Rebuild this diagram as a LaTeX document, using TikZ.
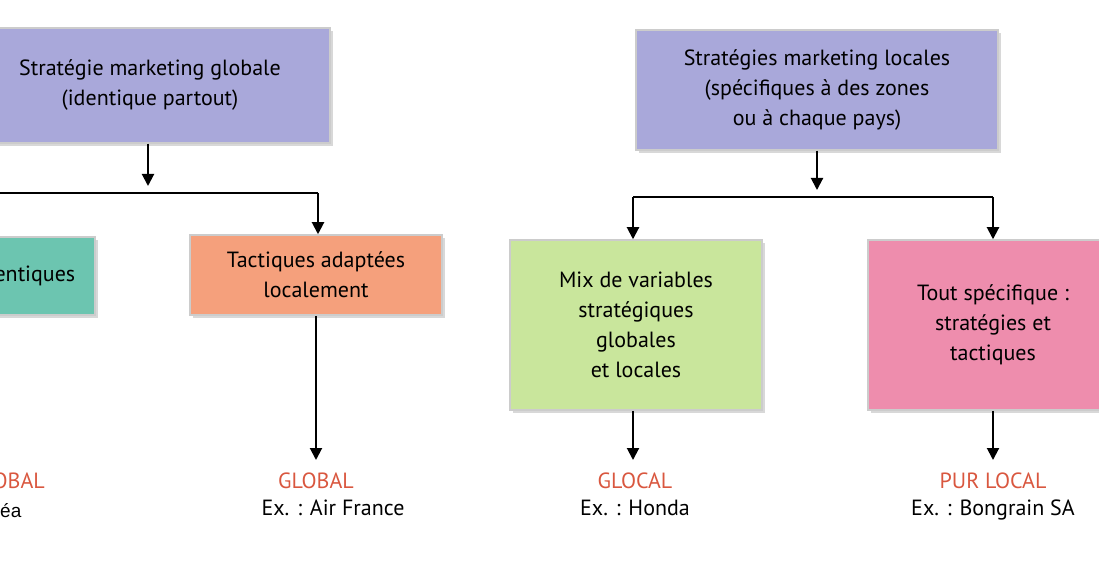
\documentclass[tikz,border=0pt]{standalone}
\usepackage{fontspec}
\setmainfont{PT Sans}
\newfontfamily\plainsans{Liberation Sans}
\usetikzlibrary{arrows.meta,shadows}
\definecolor{cpurple}{HTML}{A9A8DA}
\definecolor{cteal}{HTML}{6CC5B0}
\definecolor{corange}{HTML}{F5A07C}
\definecolor{cgreen}{HTML}{C9E69C}
\definecolor{cpink}{HTML}{EE8DAD}
\definecolor{cred}{HTML}{D9573F}
\begin{document}
\begin{tikzpicture}[x=1pt,y=-1pt,font=\fontsize{22}{30}\selectfont,
  box/.style={draw=gray!40,line width=1.5pt,align=center,inner sep=0pt,
    drop shadow={shadow xshift=3pt,shadow yshift=-3pt,fill=gray!60}},
  arr/.style={line width=2pt,-{Triangle[length=12pt,width=12pt]}},
  ln/.style={line width=2pt},
  lab/.style={text=cred,anchor=base},
  ex/.style={anchor=base}]
\useasboundingbox (0,0) rectangle (1099,577);
\clip (0,0) rectangle (1099,577);
\node[box,fill=cpurple,minimum width=360pt,minimum height=115pt] (tl) at (150,85.5) {Stratégie marketing globale\\(identique partout)};
\node[box,fill=cteal,minimum width=260pt,minimum height=78pt] (tm) at (-35,276) {\hspace*{28pt}Tactiques identiques};
\node[box,fill=corange,minimum width=252pt,minimum height=80pt] (to) at (316,275) {Tactiques adaptées\\localement};
\node[box,fill=cpurple,minimum width=362pt,minimum height=120pt] (tr) at (817,90) {Stratégies marketing locales\\(spécifiques à des zones\\ou à chaque pays)};
\node[box,fill=cgreen,minimum width=252pt,minimum height=170pt] (gr) at (636,325) {Mix de variables\\stratégiques\\globales\\et locales};
\node[box,fill=cpink,minimum width=250pt,minimum height=170pt] (pk) at (993,325) {Tout spécifique :\\stratégies et\\tactiques};
\draw[arr] (tl.south -| 148,0) -- (148,186);
\draw[ln] (-50,193) -- (318,193);
\draw[arr] (318,193) -- (to.north -| 318,0);
\draw[arr] (tr.south) -- (817,190);
\draw[ln] (633,197) -- (993,197);
\draw[arr] (633,197) -- (gr.north -| 633,0);
\draw[arr] (993,197) -- (pk.north -| 993,0);
\node[lab] (g0) at (7,488) {GLOBAL};
\node[lab] (g1) at (316,488) {GLOBAL};
\node[ex] (e1) at (333,515) {Ex. : Air France};
\node[lab] (g2) at (635,488) {GLOCAL};
\node[ex] (e2) at (635,515) {Ex. : Honda};
\node[lab] (g3) at (993,488) {PUR LOCAL};
\node[ex] (e3) at (993,515) {Ex. : Bongrain SA};
\draw[arr] (to.south -| 316,0) -- (316,460);
\draw[arr] (gr.south -| 633,0) -- (633,460);
\draw[arr] (pk.south -| 993,0) -- (993,460);
\node[anchor=base west,inner sep=0pt,font=\plainsans\fontsize{19}{22}\selectfont] (ea) at (0,517) {éa};
\end{tikzpicture}
\end{document}
